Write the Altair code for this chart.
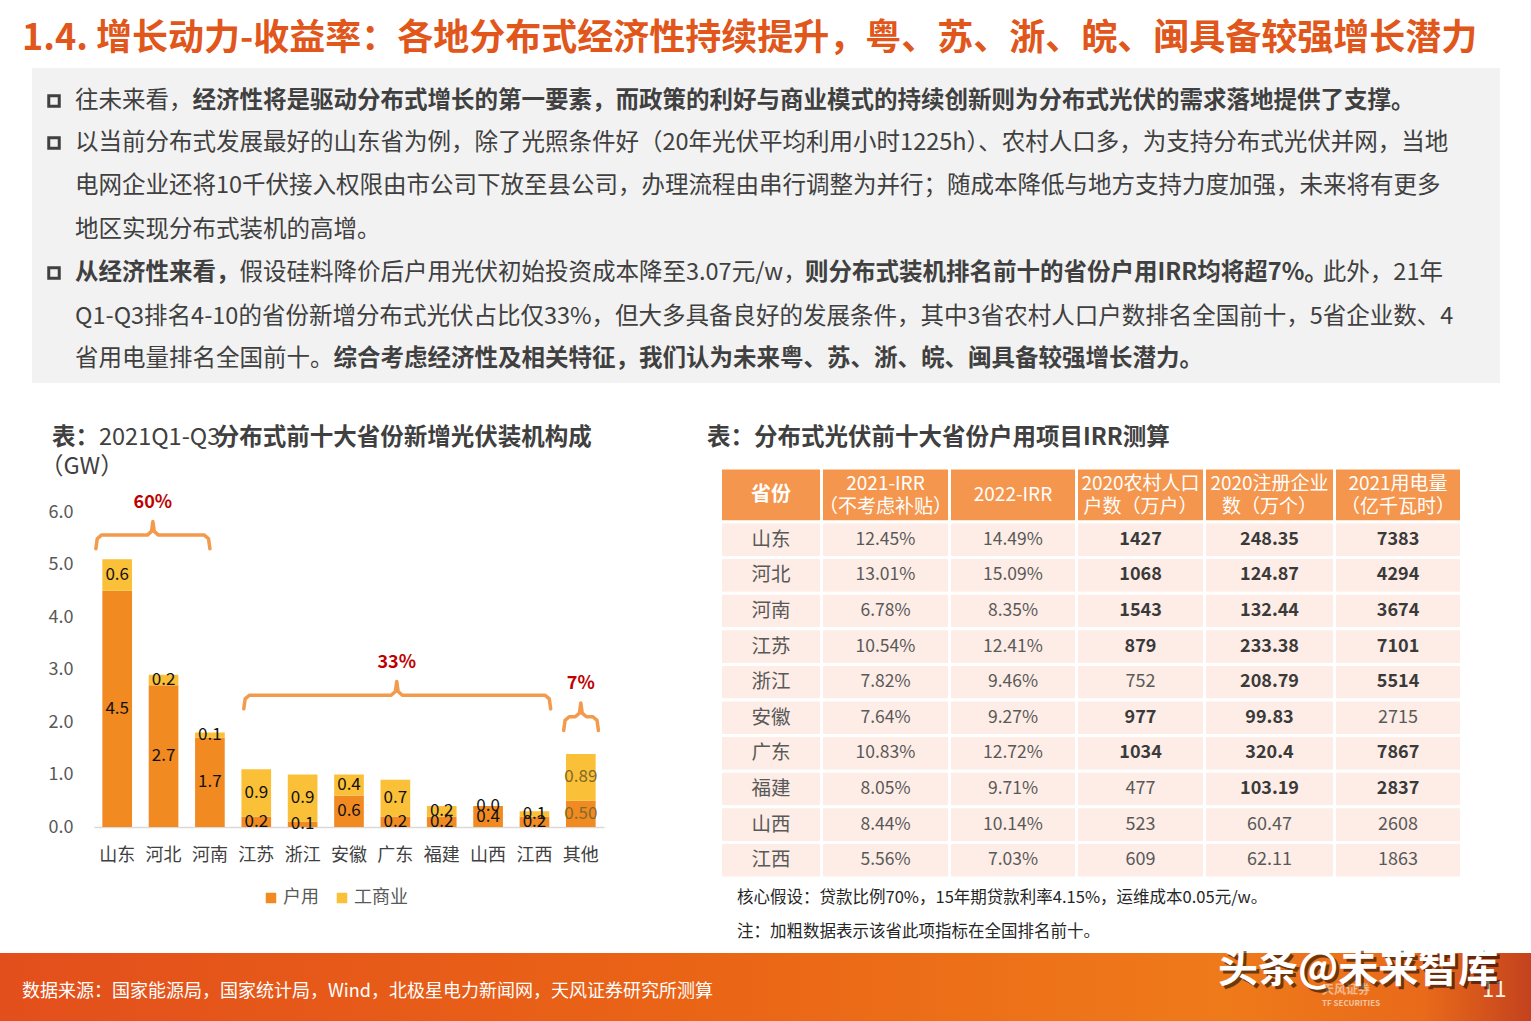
import altair as alt
import pandas as pd

FONT = "Noto Sans CJK SC"
W, H = 1531, 1021

# ---------------- text content ----------------
TITLE = "1.4. 增长动力-收益率：各地分布式经济性持续提升，粤、苏、浙、皖、闽具备较强增长潜力"

para_lines = [
    [("往未来看，", 0),
     ("经济性将是驱动分布式增长的第一要素，而政策的利好与商业模式的持续创新则为分布式光伏的需求落地提供了支撑。", 1)],
    [("以当前分布式发展最好的山东省为例，除了光照条件好（20年光伏平均利用小时1225h）、农村人口多，为支持分布式光伏并网，当地", 0)],
    [("电网企业还将10千伏接入权限由市公司下放至县公司，办理流程由串行调整为并行；随成本降低与地方支持力度加强，未来将有更多", 0)],
    [("地区实现分布式装机的高增。", 0)],
    [("从经济性来看，", 1), ("假设硅料降价后户用光伏初始投资成本降至3.07元/w，", 0),
     ("则分布式装机排名前十的省份户用IRR均将超7%。", 1), ("此外，21年", 0)],
    [("Q1-Q3排名4-10的省份新增分布式光伏占比仅33%，但大多具备良好的发展条件，其中3省农村人口户数排名全国前十，5省企业数、4", 0)],
    [("省用电量排名全国前十。", 0),
     ("综合考虑经济性及相关特征，我们认为未来粤、苏、浙、皖、闽具备较强增长潜力。", 1)],
]
para_bullets = [1, 1, 0, 0, 1, 0, 0]

chart_title_1 = [("表：", 1), ("2021Q1-Q3", 0), ("分布式前十大省份新增光伏装机构成", 1)]
chart_title_2 = "（GW）"
table_title = "表：分布式光伏前十大省份户用项目IRR测算"
note_1 = "核心假设：贷款比例70%，15年期贷款利率4.15%，运维成本0.05元/w。"
note_2 = "注：加粗数据表示该省此项指标在全国排名前十。"
source_text = "数据来源：国家能源局，国家统计局，Wind，北极星电力新闻网，天风证券研究所测算"
watermark = "头条@未来智库"
page_no = "11"
logo_cn = "天风证券"
logo_en = "TF SECURITIES"

# ---------------- bar chart data ----------------
provinces = ["山东", "河北", "河南", "江苏", "浙江", "安徽", "广东", "福建", "山西", "江西", "其他"]
residential = [4.5, 2.7, 1.7, 0.2, 0.1, 0.6, 0.2, 0.2, 0.4, 0.2, 0.50]
commercial = [0.6, 0.2, 0.1, 0.9, 0.9, 0.4, 0.7, 0.2, 0.0, 0.1, 0.89]
series_names = ["户用", "工商业"]
y_ticks = [0, 1, 2, 3, 4, 5, 6]

group_labels = ["60%", "33%", "7%"]
group_start = [0.04, 3.23, 10.13]   # category units
group_end = [2.50, 9.85, 10.88]
group_peak = [1.27, 6.53, 10.50]
group_level = [5.56, 2.51, 2.10]    # GW

# ---------------- table data ----------------
tbl_header = [["省份"], ["2021-IRR", "（不考虑补贴）"], ["2022-IRR"], ["2020农村人口", "户数（万户）"],
              ["2020注册企业", "数（万个）"], ["2021用电量", "（亿千瓦时）"]]
tbl_prov = ["山东", "河北", "河南", "江苏", "浙江", "安徽", "广东", "福建", "山西", "江西"]
irr_2021 = [12.45, 13.01, 6.78, 10.54, 7.82, 7.64, 10.83, 8.05, 8.44, 5.56]
irr_2022 = [14.49, 15.09, 8.35, 12.41, 9.46, 9.27, 12.72, 9.71, 10.14, 7.03]
rural_hh = [1427, 1068, 1543, 879, 752, 977, 1034, 477, 523, 609]
firms = [248.35, 124.87, 132.44, 233.38, 208.79, 99.83, 320.4, 103.19, 60.47, 62.11]
power = [7383, 4294, 3674, 7101, 5514, 2715, 7867, 2837, 2608, 1863]
rural_top10 = [1, 1, 1, 1, 0, 1, 1, 0, 0, 0]
firms_top10 = [1, 1, 1, 1, 1, 1, 1, 1, 0, 0]
power_top10 = [1, 1, 1, 1, 1, 0, 1, 1, 0, 0]

# ---------------- layout / style ----------------
C_TITLE = "#E0561B"
C_TEXT = "#404040"
C_RES = "#F28A22"
C_COM = "#FAC038"
C_RED = "#C00000"
C_BRACE = "#F29B4C"
C_HDR = "#F5964E"
C_CELL = "#FDEDE6"

col_w = [1.01, 1.28, 1.27, 1.28, 1.30, 1.27]
hdr_h = 1.517
row_px = 35.6
hdr_line_px = 23


def tw(s, fs):
    w = 0.0
    for ch in s:
        o = ord(ch)
        if o >= 0x2E80 or ch in "（）：，。；、":
            w += 1.0
        elif ch.isdigit():
            w += 0.555
        elif ch == ".":
            w += 0.27
        elif ch == "%":
            w += 0.88
        elif ch == "/":
            w += 0.38
        elif ch == "-":
            w += 0.34
        elif ch == " ":
            w += 0.22
        elif ch == "@":
            w += 0.9
        elif ch in "IJ":
            w += 0.3
        elif ch.isupper():
            w += 0.65
        elif ch in "wm":
            w += 0.75
        else:
            w += 0.53
    return w * fs


texts = []


def add_segments(segs, x, y, fs, color):
    for s, b in segs:
        texts.append(dict(x=x, y=y, text=s, size=fs, color=color, bold=b))
        x += tw(s, fs)


add_segments([(TITLE, 1)], 22, 39, 36, C_TITLE)
para_y = [101, 143, 186, 230, 273, 317, 359]
for segs, yy in zip(para_lines, para_y):
    add_segments(segs, 75, yy, 23.5, C_TEXT)
add_segments(chart_title_1, 52, 438, 23.5, C_TEXT)
add_segments([(chart_title_2, 0)], 40, 467, 23.5, C_TEXT)
add_segments([(table_title, 1)], 707, 438, 23.5, C_TEXT)
add_segments([(note_1, 0)], 737, 898, 16.5, "#262626")
add_segments([(note_2, 0)], 737, 932, 16.5, "#262626")
add_segments([(source_text, 0)], 22, 992, 18, "#FFFFFF")
add_segments([(logo_cn, 1)], 1322, 990, 12, "rgba(255,255,255,0.5)")
add_segments([(logo_en, 1)], 1322, 1004, 8, "rgba(255,255,255,0.6)")
add_segments([(watermark, 1)], 1221, 973, 40, "rgba(0,0,0,0.55)")
add_segments([(watermark, 1)], 1218, 970, 40, "#FFFFFF")
add_segments([(page_no, 0)], 1482, 990, 22, "#FFF3E6")
text_df = pd.DataFrame(texts)

bullet_df = pd.DataFrame({"x": [54] * sum(para_bullets),
                          "y": [yy for yy, b in zip(para_y, para_bullets) if b]})

# ---------------- background shapes ----------------
grey_box = alt.Chart(pd.DataFrame({"a": [0]})).mark_rect(fill="#F2F2F2").encode(
    x=alt.value(32), x2=alt.value(1500), y=alt.value(68), y2=alt.value(383))

footer = alt.Chart(pd.DataFrame({"a": [0]})).mark_rect(
    fill=alt.LinearGradient(
        gradient="linear", x1=0, x2=1, y1=0, y2=0,
        stops=[alt.GradientStop(offset=0, color="#E34F1C"),
               alt.GradientStop(offset=0.45, color="#EA6416"),
               alt.GradientStop(offset=0.8, color="#EF7A1A"),
               alt.GradientStop(offset=0.93, color="#E96A1A"),
               alt.GradientStop(offset=1, color="#C4421E")])
).encode(x=alt.value(0), x2=alt.value(W), y=alt.value(953), y2=alt.value(H))

# ---------------- bar chart ----------------
rows = []
for p, r, c in zip(provinces, residential, commercial):
    fmt = "{:.2f}" if p == "其他" else "{:.1f}"
    rows.append(dict(prov=p, kind=series_names[0], val=r, ord=0, label=fmt.format(r)))
    rows.append(dict(prov=p, kind=series_names[1], val=c, ord=1, label=fmt.format(c)))
bar_df = pd.DataFrame(rows)

xs = alt.Scale(domain=provinces, range=[94, 604], paddingInner=0.36, paddingOuter=0.18)
ys = alt.Scale(domain=[0, 6], range=[827, 512], nice=False, zero=False)

base = alt.Chart(bar_df).transform_stack(
    stack="val", groupby=["prov"], as_=["y0", "y1"],
    sort=[alt.SortField(field="ord", order="ascending")]
).transform_calculate(mid="(datum.y0 + datum.y1) / 2")

bars = base.mark_bar().encode(
    x=alt.X("prov:N", scale=xs, sort=provinces,
            axis=alt.Axis(orient="bottom", offset=-(H - 827), title=None, labelAngle=0,
                          labelFont=FONT, labelFontSize=18, labelColor=C_TEXT,
                          labelPadding=19, ticks=False, domainColor="#D9D9D9",
                          domainWidth=1.5, grid=False)),
    y=alt.Y("y0:Q", scale=ys,
            axis=alt.Axis(orient="left", offset=-73, title=None, values=y_ticks,
                          format=".1f", labelFont=FONT, labelFontSize=18,
                          labelColor="#595959", ticks=False, domain=False,
                          grid=False, labelPadding=0)),
    y2="y1:Q",
    color=alt.Color("kind:N",
                    scale=alt.Scale(domain=series_names, range=[C_RES, C_COM]),
                    legend=alt.Legend(orient="none", legendX=262, legendY=889,
                                      direction="horizontal", title=None,
                                      symbolType="square", symbolSize=110,
                                      symbolStrokeWidth=0, labelFont=FONT,
                                      labelFontSize=18, labelColor="#595959",
                                      columnPadding=14, labelOffset=3)),
    order=alt.Order("ord:Q"),
)

bar_labels = base.mark_text(font=FONT, fontSize=17, baseline="middle").encode(
    x=alt.X("prov:N", scale=xs, sort=provinces, axis=None),
    y=alt.Y("mid:Q", scale=ys, axis=None),
    text="label:N",
    color=alt.condition(alt.datum.prov == "其他", alt.value("#7F6A2A"), alt.value("#111111")),
)

# brackets
bx = alt.Scale(domain=[0, len(provinces)], range=[94, 604], nice=False, zero=False)
brows = []
for g, (x0, x1, xp, yl) in enumerate(zip(group_start, group_end, group_peak, group_level)):
    d, e = 0.26, 0.12
    pts = [(x0, yl - d), (x0 + 0.03, yl - 0.07), (x0 + e, yl), (xp - e, yl),
           (xp - 0.03, yl + 0.07), (xp, yl + d), (xp + 0.03, yl + 0.07),
           (xp + e, yl), (x1 - e, yl), (x1 - 0.03, yl - 0.07), (x1, yl - d)]
    for i, (px, py) in enumerate(pts):
        brows.append(dict(g=g, i=i, x=px, y=py))
brace_df = pd.DataFrame(brows)
brace_lab_df = pd.DataFrame({"x": group_peak, "y": [l + 0.62 for l in group_level],
                             "lab": group_labels})

braces = alt.Chart(brace_df).mark_line(color=C_BRACE, strokeWidth=3.5,
                                       strokeCap="round", strokeJoin="round").encode(
    x=alt.X("x:Q", scale=bx, axis=None),
    y=alt.Y("y:Q", scale=ys, axis=None),
    detail="g:N", order="i:Q")

brace_text = alt.Chart(brace_lab_df).mark_text(
    font=FONT, fontSize=18, fontWeight="bold", color=C_RED, baseline="middle").encode(
    x=alt.X("x:Q", scale=bx, axis=None),
    y=alt.Y("y:Q", scale=ys, axis=None),
    text="lab:N")

# ---------------- table ----------------
edges = [0.0]
for w in col_w:
    edges.append(edges[-1] + w)
tx = alt.Scale(domain=[0, edges[-1]], range=[720.5, 1461.5], nice=False, zero=False)
ty = alt.Scale(domain=[0, hdr_h + len(tbl_prov)], range=[468, 878], nice=False, zero=False)

cells, ttexts = [], []
line_u = hdr_line_px / row_px
for j, h in enumerate(tbl_header):
    cells.append(dict(x0=edges[j], x1=edges[j + 1], y0=0, y1=hdr_h, fill=C_HDR))
    n = len(h)
    for k, line in enumerate(h):
        yc = hdr_h / 2 + (k - (n - 1) / 2) * line_u
        ttexts.append(dict(xc=(edges[j] + edges[j + 1]) / 2, yc=yc, text=line,
                           size=20 if j == 0 else 19, color="#FFFFFF", bold=1 if j == 0 else 0))
for i, p in enumerate(tbl_prov):
    y0 = hdr_h + i
    vals = [(p, 0, 19.5), (f"{irr_2021[i]:.2f}%", 0, 17.5), (f"{irr_2022[i]:.2f}%", 0, 17.5),
            (str(rural_hh[i]), rural_top10[i], 18), (f"{firms[i]:g}", firms_top10[i], 18),
            (str(power[i]), power_top10[i], 18)]
    for j, (t, b, fs) in enumerate(vals):
        cells.append(dict(x0=edges[j], x1=edges[j + 1], y0=y0, y1=y0 + 1, fill=C_CELL))
        ttexts.append(dict(xc=(edges[j] + edges[j + 1]) / 2, yc=y0 + 0.5, text=t, size=fs,
                           color="#3A3A3A" if b else "#595959", bold=b))
cell_df = pd.DataFrame(cells)
ttext_df = pd.DataFrame(ttexts)

table_cells = alt.Chart(cell_df).mark_rect(stroke="white", strokeWidth=3).encode(
    x=alt.X("x0:Q", scale=tx, axis=None), x2="x1:Q",
    y=alt.Y("y0:Q", scale=ty, axis=None), y2="y1:Q",
    fill=alt.Fill("fill:N", scale=None))


def table_text(bold):
    return alt.Chart(ttext_df).transform_filter(f"datum.bold == {bold}").mark_text(
        font=FONT, align="center", baseline="middle",
        fontWeight="bold" if bold else "normal").encode(
        x=alt.X("xc:Q", scale=tx, axis=None),
        y=alt.Y("yc:Q", scale=ty, axis=None),
        text="text:N",
        size=alt.Size("size:Q", scale=None, legend=None),
        color=alt.Color("color:N", scale=None))


# ---------------- free text ----------------
def free_text(bold):
    return alt.Chart(text_df).transform_filter(f"datum.bold == {bold}").mark_text(
        font=FONT, align="left", baseline="middle",
        fontWeight="bold" if bold else "normal").encode(
        x=alt.X("x:Q", scale=None, axis=None),
        y=alt.Y("y:Q", scale=None, axis=None),
        text="text:N",
        size=alt.Size("size:Q", scale=None, legend=None),
        color=alt.Color("color:N", scale=None))


bullets = alt.Chart(bullet_df).mark_point(shape="square", filled=False, size=110,
                                          strokeWidth=3, color=C_TEXT, opacity=1).encode(
    x=alt.X("x:Q", scale=None, axis=None), y=alt.Y("y:Q", scale=None, axis=None))

chart = alt.layer(
    grey_box, footer, bars, bar_labels, braces, brace_text,
    table_cells, table_text(0), table_text(1),
    free_text(0), free_text(1), bullets,
).resolve_scale(
    x="independent", y="independent", color="independent", size="independent"
).properties(
    width=W, height=H, padding=0, background="white",
    autosize=alt.AutoSizeParams(type="none", contains="padding"),
).configure_view(stroke=None).configure_axis(grid=False)

chart.save("out.html", embed_options={"renderer": "svg", "actions": False})
